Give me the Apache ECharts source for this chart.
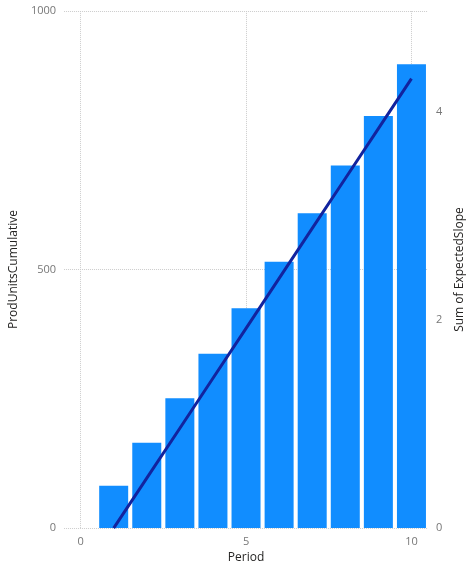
<!DOCTYPE html>
<html><head><meta charset="utf-8">
<script src="https://cdn.jsdelivr.net/npm/echarts@6/dist/echarts.min.js"></script>
<style>html,body{margin:0;padding:0;background:#fff}#c{width:474px;height:569px}</style>
</head><body><div id="c"></div>
<script>
const periods = [1,2,3,4,5,6,7,8,9,10];
const prodUnitsCumulative = [82,165,251,337,425,515,609,701,797,897];
const expectedSlope = [0,0.48,0.96,1.44,1.92,2.40,2.88,3.36,3.84,4.32];
const xTickLabels = [0,5,10];
const font = 'Segoe UI, "Open Sans", sans-serif';
const chart = echarts.init(document.getElementById('c'));
chart.setOption({
  animation:false,
  grid:{left:48,right:36,top:11,bottom:36},
  xAxis:{type:'value',min:-0.5,max:10.5,interval:0.5,
    name:'Period',nameLocation:'middle',nameGap:22,
    nameTextStyle:{color:'#252423',fontSize:12,fontFamily:font},
    axisLine:{show:false,onZero:false},axisTick:{show:false},
    axisLabel:{color:'#777',fontSize:11,fontFamily:font,
      formatter:v=>(xTickLabels.includes(v)?String(v):'')},
    splitLine:{show:false}},
  yAxis:[
    {type:'value',min:0,max:1000,interval:500,position:'left',
     name:'ProdUnitsCumulative',nameLocation:'middle',nameGap:37,
     nameTextStyle:{color:'#252423',fontSize:12,fontFamily:font},
     axisLine:{show:false,onZero:false},axisTick:{show:false},
     axisLabel:{color:'#777',fontSize:11,fontFamily:font,formatter:v=>String(v)},
     splitLine:{lineStyle:{type:'dotted',color:'#ccc'}}},
    {type:'value',min:0,max:4.97,interval:2,position:'right',
     name:'Sum of ExpectedSlope',nameLocation:'middle',nameGap:26,
     nameTextStyle:{color:'#252423',fontSize:12,fontFamily:font},
     axisLine:{show:false,onZero:false},axisTick:{show:false},
     axisLabel:{color:'#777',fontSize:11,fontFamily:font,showMaxLabel:false},
     splitLine:{show:false}}
  ],
  series:[
    {type:'bar',yAxisIndex:0,barWidth:29,itemStyle:{color:'#118DFF'},z:2,
     data:periods.map((p,i)=>[p,prodUnitsCumulative[i]]),
     markLine:{silent:true,symbol:'none',label:{show:false},z:1,
       lineStyle:{type:'dotted',color:'#ccc',width:1},
       data:xTickLabels.map(v=>({xAxis:v}))}},
    {type:'line',yAxisIndex:1,symbol:'none',lineStyle:{color:'#12239E',width:3},z:3,
     data:periods.map((p,i)=>[p,expectedSlope[i]])}
  ]
});
</script></body></html>
